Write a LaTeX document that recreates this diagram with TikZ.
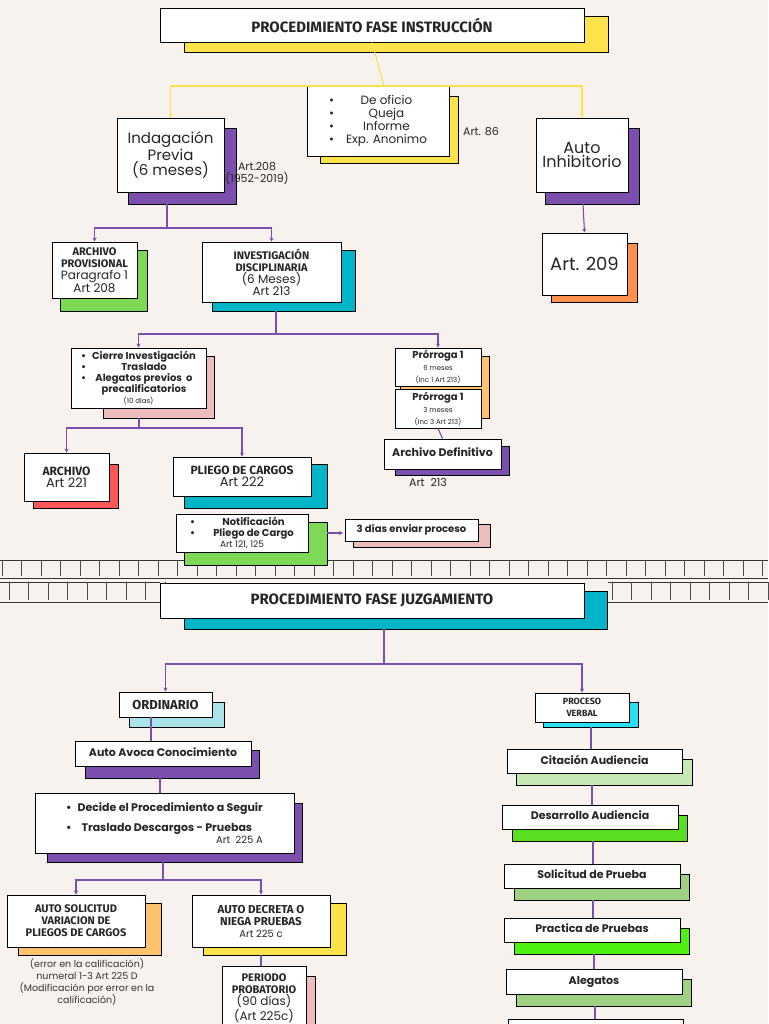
\documentclass[tikz,border=0pt]{standalone}
\usepackage{fontspec}
\setmainfont{Poppins}
\newfontfamily\hd{Fira Sans}
\usetikzlibrary{fit,arrows.meta,calc}
\definecolor{bg}{HTML}{F7F2EE}
\definecolor{cy}{HTML}{FCE34B}
\definecolor{cp}{HTML}{7B4FAE}
\definecolor{co}{HTML}{FF914D}
\definecolor{cg}{HTML}{7ED957}
\definecolor{cc}{HTML}{00B5C7}
\definecolor{ck}{HTML}{EDBDBE}
\definecolor{cr}{HTML}{FF5757}
\definecolor{clc}{HTML}{A8E4EA}
\definecolor{cc2}{HTML}{27E0F5}
\definecolor{clg}{HTML}{C5E8B4}
\definecolor{cg2}{HTML}{58E020}
\definecolor{cg3}{HTML}{9ED282}
\definecolor{cg4}{HTML}{4EF00F}
\definecolor{co2}{HTML}{FFC36E}
\tikzset{
 wbox/.style={draw=black,line width=0.9pt,fill=white,inner sep=0pt,align=center,text=black!85},
 sbox/.style={draw=black,line width=0.9pt,inner sep=0pt},
 pl/.style={draw=cp,line width=1.1pt},
 yl/.style={draw=cy,line width=1.1pt},
 ar/.style={-{Stealth[length=4pt,width=4pt]}},
}
\newcommand\hf[2]{{\hd\bfseries\fontsize{#1}{#1}\selectfont #2}}
\newcommand\rf[2]{{\fontsize{#1}{#1}\selectfont #2}}
\newcommand\bx[7]{%
 \node[sbox,fill=#6,fit={(#4)(#5)}] (#1s) {};
 \node[wbox,fit={(#2)(#3)}] (#1) {};
 \node[align=center,text=black!85] at (#1.center) {#7};
}
\begin{document}
\begin{tikzpicture}[x=1pt,y=-1pt]
\fill[bg] (0,0) rectangle (768,1024);
\useasboundingbox (0,0) rectangle (768,1024);
% ruler bands
\draw[black!80,line width=0.8pt] (0,560) -- (768,560) (0,578) -- (768,578) (0,582)--(160,582) (608,582)--(768,582) (0,602)--(160,602) (608,602)--(768,602);
\foreach \i in {0,...,39} {\draw[black!70,line width=0.7pt] (\i*19.5+2,560) -- (\i*19.5+2,576);}
\foreach \i in {0,...,8} {\draw[black!70,line width=0.7pt] (\i*19.5+9,582) -- (\i*19.5+9,600);}
\foreach \i in {0,...,8} {\draw[black!70,line width=0.7pt] (\i*19.5+612,582) -- (\i*19.5+612,600);}
% titles
\bx{t1}{160,8}{584,42}{184,16}{608,52}{cy}{\hf{15}{PROCEDIMIENTO FASE INSTRUCCIÓN}}
\bx{t2}{160,583}{584,618}{184,591}{607,629}{cc}{\hf{15}{PROCEDIMIENTO FASE JUZGAMIENTO}}
% top level
\bx{src}{307,86}{449,156}{320,96}{458,163}{cy}{\fontsize{12}{12.5}\selectfont\begin{tabular}{@{}l@{\hspace{12pt}}c@{}}•&De oficio\\•&Queja\\•&Informe\\•&Exp. Anonimo\end{tabular}}
\node[font=\fontsize{11}{13}\selectfont,text=black!85] (a86) at (481,132) {Art. 86};
\bx{ind}{117,118}{224,192}{128,128}{236,204}{cp}{\rf{15}{Indagación}\\\rf{15}{Previa}\\\rf{15}{(6 meses)}}
\node[font=\fontsize{11}{12}\selectfont,align=center,text=black!85] (a208) at (257,173) {Art.208\\(1952-2019)};
\bx{inh}{536,118}{628,192}{545,128}{639,204}{cp}{\rf{16}{Auto}\\\rf{16}{Inhibitorio}}
\bx{a209}{542,233}{627,295}{551,243}{637,302}{co}{\rf{18}{Art. 209}}
\coordinate (ja) at (384,86);
\draw[yl] (t1.south) -- (ja);
\draw[yl,ar] (ja) -| (ind.north);
\draw[yl,ar] (ja) -| (inh.north);
\coordinate (inhb) at (583,204);
\draw[pl,ar] (inhb) -- (a209.north);
% level 2
\bx{apr}{52,242}{137,298}{60,250}{147,311}{cg}{\hf{11}{ARCHIVO}\\\hf{11}{PROVISIONAL}\\\rf{12}{Paragrafo 1}\\\rf{12}{Art 208}}
\bx{inv}{202,242}{341,302}{212,250}{355,311}{cc}{\hf{11}{INVESTIGACIÓN}\\\hf{11}{DISCIPLINARIA}\\\rf{12}{(6 Meses)}\\\rf{12}{Art 213}}
\coordinate (indb) at (167,204);
\coordinate (jb) at (167,228);
\draw[pl] (indb) -- (jb);
\draw[pl,ar] (jb) -| (apr.north);
\draw[pl,ar] (jb) -| (inv.north);
% level 3
\bx{cie}{71,348}{206,408}{103,356}{214,418}{ck}{{\bfseries\fontsize{10}{10.5}\selectfont\begin{tabular}{@{}l@{\hspace{6pt}}c@{}}•&Cierre Investigación\\•&Traslado\\•&Alegatos previos \ o\\&precalificatorios\end{tabular}}\\\rf{7}{(10 días)}}
\node[sbox,fill=co2,fit={(400,356)(489,418)}] (prs) {};
\node[wbox,fit={(395,348)(481,386)}] (pr1) {};
\node[align=center,text=black!85] at (pr1.center) {{\bfseries\fontsize{10}{11}\selectfont Prórroga 1}\\\rf{7}{6 meses}\\\rf{7}{(Inc 1 Art 213)}};
\node[wbox,fit={(395,389)(481,428)}] (pr2) {};
\node[align=center,text=black!85] at (pr2.center) {{\bfseries\fontsize{10}{11}\selectfont Prórroga 1}\\\rf{7}{3 meses}\\\rf{7}{(Inc 3 Art 213)}};
\bx{adf}{384,439}{501,469}{395,446}{509,475}{cp}{\raisebox{4pt}{\bfseries\fontsize{11}{12}\selectfont Archivo Definitivo}}
\node[font=\fontsize{11}{12}\selectfont,text=black!85] (a213) at (428,482) {Art \ 213};
\draw[pl] (pr2.south) -- (adf.north);
\coordinate (invb) at (276,311);
\coordinate (jc) at (276,334);
\draw[pl] (invb) -- (jc);
\draw[pl,ar] (jc) -| (cie.north);
\draw[pl,ar] (jc) -| (pr1.north);
% level 4
\bx{arc}{24,453}{109,501}{33,464}{118,508}{cr}{\hf{12}{ARCHIVO}\\\rf{13}{Art 221}}
\bx{plc}{173,457}{311,496}{184,464}{327,508}{cc}{\hf{12}{PLIEGO DE CARGOS}\\\rf{13}{Art 222}}
\coordinate (cieb) at (139,418);
\coordinate (jd) at (139,428);
\draw[pl] (cieb) -- (jd);
\draw[pl,ar] (jd) -| (arc.north);
\draw[pl,ar] (jd) -| (plc.north);
\bx{not}{176,514}{308,552}{184,522}{327,565}{cg}{{\bfseries\fontsize{10}{10.5}\selectfont\begin{tabular}{@{}l@{\hspace{18pt}}c@{}}•&Notificación\\•&Pliego de Cargo\end{tabular}}\\\rf{9}{Art 121, 125}}
\bx{tre}{345,519}{478,541}{353,524}{490,547}{ck}{{\bfseries\fontsize{10}{11}\selectfont 3 días enviar proceso}}
\coordinate (notr) at (327,533);
\coordinate (trel) at (343,533);
\draw[pl,ar] (notr) -- (trel);
% juzgamiento
\bx{ord}{119,692}{212,717}{129,702}{224,727}{clc}{\hf{13}{ORDINARIO}}
\bx{pv}{535,693}{629,722}{543,702}{638,727}{cc2}{\hf{9}{PROCESO}\\\hf{9}{VERBAL}}
\coordinate (t2b) at (384,629);
\coordinate (je) at (384,664);
\draw[pl] (t2b) -- (je);
\draw[pl,ar] (je) -| (ord.north);
\draw[pl,ar] (je) -| (pv.north);
\bx{ava}{75,741}{251,766}{85,750}{259,778}{cp}{\raisebox{3pt}{\bfseries\fontsize{11}{12}\selectfont Auto Avoca Conocimiento}}
\draw[pl] (151,717) -- (151,741);
\bx{dec}{35,793}{294,853}{47,803}{302,862}{cp}{{\bfseries\fontsize{11}{12}\selectfont\begin{tabular}{@{}l@{\hspace{6pt}}l@{}}•&Decide el Procedimiento a Seguir\\[8pt]•&\hspace{4pt}Traslado Descargos - Pruebas\end{tabular}}\\\hspace*{150pt}\rf{10}{Art \ 225 A}}
\draw[pl] (160,778) -- (160,793);
\coordinate (decb) at (163,862);
\coordinate (jf) at (163,880);
\draw[pl] (decb) -- (jf);
\bx{aso}{7,895}{145,947}{18,903}{161,955}{co2}{\hf{11}{AUTO SOLICITUD}\\\hf{11}{VARIACION DE}\\\hf{11}{PLIEGOS DE CARGOS}}
\bx{adp}{192,895}{330,947}{203,903}{346,955}{cy}{\hf{11.5}{AUTO DECRETA O}\\\hf{11.5}{NIEGA PRUEBAS}\\\rf{10}{Art 225 c}}
\draw[pl,ar] (jf) -| (aso.north);
\draw[pl,ar] (jf) -| (adp.north);
\node[align=center,text=black!80] (err) at (87,982) {\rf{9.5}{(error en la calificación)}\\\rf{9.5}{numeral 1-3 Art 225 D}\\\rf{9.5}{(Modificación por error en la}\\\rf{9.5}{calificación)}};
\bx{per}{222,966}{306,1040}{232,976}{315,1040}{ck}{\hf{11}{PERIODO}\\\hf{11}{PROBATORIO}\\\rf{12}{(90 días)}\\\rf{12}{(Art 225c)}\\\rf{12}{~}}
\draw[pl] (261,955) -- (261,966);
% verbal column
\bx{cit}{507,749}{682,773}{516,759}{692,785}{clg}{\raisebox{3pt}{\bfseries\fontsize{11}{12}\selectfont Citación Audiencia}}
\bx{des}{502,805}{678,829}{512,815}{687,841}{cg2}{\raisebox{3pt}{\bfseries\fontsize{11}{12}\selectfont Desarrollo Audiencia}}
\bx{sol}{504,864}{680,888}{514,874}{689,900}{cg3}{\raisebox{3pt}{\bfseries\fontsize{11}{12}\selectfont Solicitud de Prueba}}
\bx{pra}{504,918}{680,942}{514,928}{689,954}{cg4}{\raisebox{3pt}{\bfseries\fontsize{11}{12}\selectfont Practica de Pruebas}}
\bx{ale}{506,969}{682,994}{516,979}{691,1006}{cg3}{\raisebox{3pt}{\bfseries\fontsize{11}{12}\selectfont Alegatos}}
\bx{fal}{508,1019}{683,1045}{518,1029}{692,1050}{cg}{\raisebox{3pt}{\bfseries\fontsize{11}{12}\selectfont Fallo primera Instancia}}
\draw[pl] (591,727) -- (591,749);
\draw[pl] (592,785) -- (592,805);
\draw[pl] (593,841) -- (593,864);
\draw[pl] (593,900) -- (593,918);
\draw[pl] (594,954) -- (594,969);
\draw[pl] (595,1006) -- (595,1019);
\end{tikzpicture}
\end{document}
